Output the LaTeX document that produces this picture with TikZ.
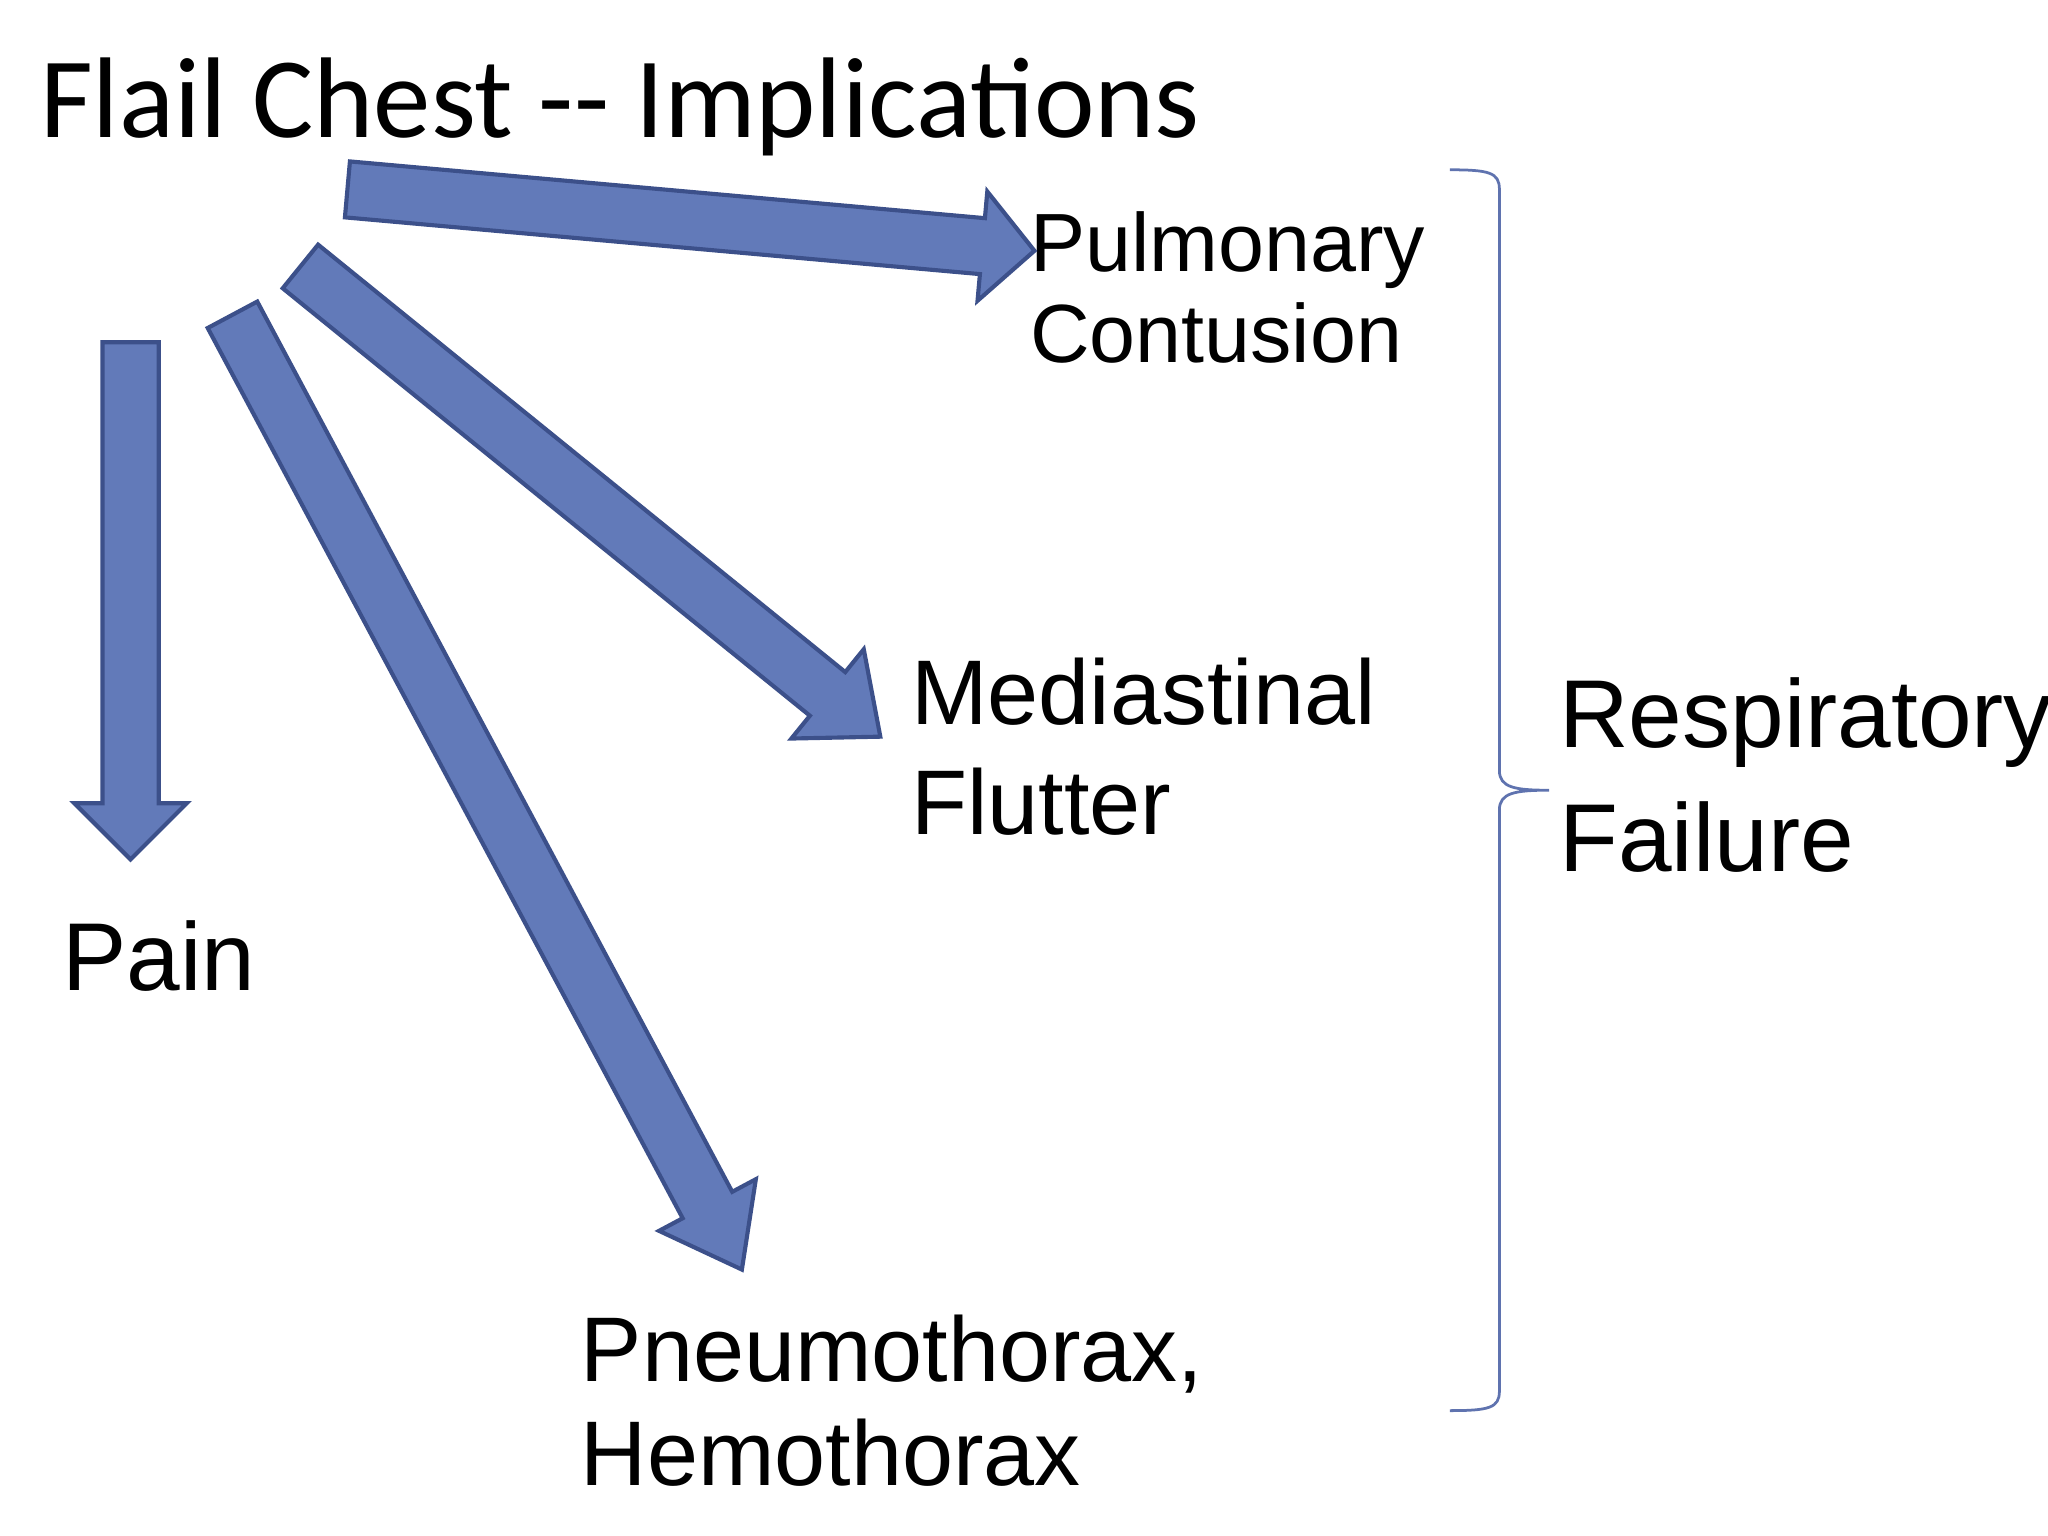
\documentclass[tikz,border=0pt]{standalone}
\usepackage{fontspec}
\setmainfont{Liberation Sans}
\newfontfamily\titlefont{Carlito}
\usetikzlibrary{calc}
\definecolor{blockfill}{RGB}{98,122,185}
\definecolor{blockline}{RGB}{60,80,138}
\definecolor{bracecol}{RGB}{95,115,175}
\begin{document}
\begin{tikzpicture}[x=0.1mm,y=-0.1mm,
  lbl/.style={inner sep=0pt,anchor=north west,align=left},
  blk/.style={fill=blockfill,draw=blockline,line width=0.9pt,line join=miter}]
\useasboundingbox (0,0) rectangle (1568,1176);

% texts
\node[inner sep=0pt,anchor=base west,font=\titlefont\fontsize{25}{30}\selectfont] (title) at (30,105) {Flail Chest -- Implications};
\node[lbl,font=\fontsize{18}{20}\selectfont] (pul) at (788,161) {Pulmonary\\Contusion};
\node[lbl,font=\fontsize{20}{24}\selectfont] (med) at (697,503) {Mediastinal\\Flutter};
\node[lbl,font=\fontsize{21}{27}\selectfont] (resp) at (1193,518) {Respiratory\\Failure};
\node[lbl,font=\fontsize{21}{25}\selectfont] (pain) at (47,704) {Pain};
\node[lbl,font=\fontsize{20}{22.7}\selectfont] (pneu) at (444,1006) {Pneumothorax,\\Hemothorax};

% block arrows: tail centre, tip
\coordinate (t1) at (266,145); \coordinate (p1) at (792,192);
\coordinate (t2) at (230,204); \coordinate (p2) at (674,564);
\coordinate (t3) at (178,241); \coordinate (p3) at (568,972);
\coordinate (t4) at (100,262); \coordinate (p4) at (100,658);

\foreach \t/\p/\hl/\hh in {t1/p1/4mm/4.2mm, t2/p2/5.2mm/4.4mm, t3/p3/5.6mm/4.2mm, t4/p4/4.3mm/4.3mm}{
  \coordinate (s) at ($(\p)!\hl!(\t)$);
  \draw[blk] ($(\t)!2.15mm!90:(\p)$) -- ($(s)!2.15mm!-90:(\t)$) -- ($(s)!\hh!-90:(\t)$)
    -- (\p) -- ($(s)!\hh!90:(\t)$) -- ($(s)!2.15mm!90:(\t)$) -- ($(\t)!2.15mm!-90:(\p)$) -- cycle;
}

% brace
\coordinate (bt) at (1110,130); \coordinate (bb) at (1110,1080); \coordinate (bm) at (1186,605);
\draw[bracecol,line width=0.6pt] (bt) .. controls (1140,130) and (1148,132) .. (1148,145)
  -- (1148,590) .. controls (1148,603) and (1160,605) .. (bm)
  .. controls (1160,605) and (1148,607) .. (1148,620)
  -- (1148,1065) .. controls (1148,1078) and (1140,1080) .. (bb);
\end{tikzpicture}
\end{document}
